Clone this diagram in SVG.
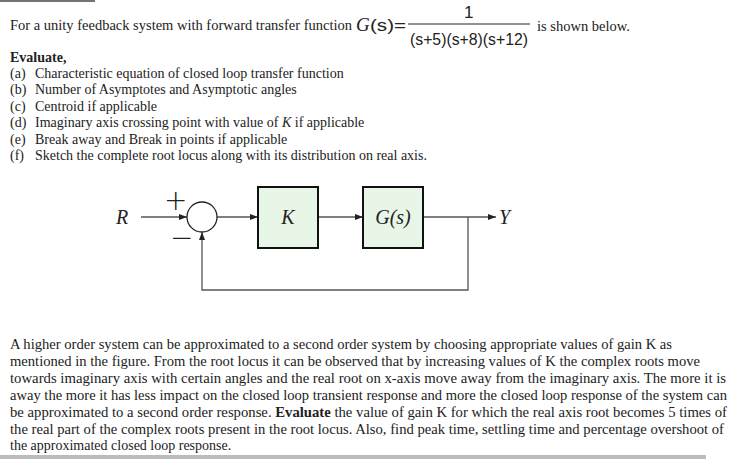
<svg xmlns="http://www.w3.org/2000/svg" width="738" height="459" viewBox="0 0 738 459">
<style>
.t{font-family:"Liberation Serif",serif;font-size:14px;fill:#222}
.m{font-family:"Liberation Serif",serif;font-style:italic;font-size:20px;fill:#222}
.s{font-family:"Liberation Sans",sans-serif;font-size:17px;fill:#222}
.pm{font-family:"DejaVu Sans",sans-serif;font-size:28px;font-weight:200;fill:#222}
.blk{fill:#e8f6e8;stroke:#111;stroke-width:2}
.ln{stroke:#555;stroke-width:1.3;fill:none}
</style>
<defs><marker id="a" markerWidth="8" markerHeight="6" refX="8" refY="3" orient="auto" markerUnits="userSpaceOnUse"><path d="M0,0L8,3L0,6z" fill="#222"/></marker></defs>
<rect width="738" height="459" fill="#fff"/>
<line x1="0" y1="1" x2="95" y2="1" stroke="#444" stroke-width="1.5"/>
<text class="t" x="10" y="30" textLength="342" lengthAdjust="spacingAndGlyphs">For a unity feedback system with forward transfer function</text>
<text x="356" y="31" style="font-family:'Liberation Serif',serif;font-size:19px;font-style:italic;fill:#222">G</text>
<text class="s" x="370" y="31" textLength="36" lengthAdjust="spacingAndGlyphs">(s)=</text>
<text class="s" x="464" y="18">1</text>
<line x1="408" y1="24" x2="530" y2="24" stroke="#222" stroke-width="1"/>
<text class="s" x="410" y="45" textLength="118" lengthAdjust="spacingAndGlyphs">(s+5)(s+8)(s+12)</text>
<text class="t" x="537" y="31" textLength="93" lengthAdjust="spacingAndGlyphs">is shown below.</text>
<text class="t" x="10" y="62" font-weight="bold">Evaluate,</text>
<g class="t">
<text x="10" y="78">(a)</text><text x="35" y="78">Characteristic equation of closed loop transfer function</text>
<text x="10" y="94">(b)</text><text x="35" y="94">Number of Asymptotes and Asymptotic angles</text>
<text x="10" y="111">(c)</text><text x="35" y="111">Centroid if applicable</text>
<text x="10" y="127">(d)</text><text x="35" y="127">Imaginary axis crossing point with value of <tspan font-style="italic">K</tspan> if applicable</text>
<text x="10" y="144">(e)</text><text x="35" y="144">Break away and Break in points if applicable</text>
<text x="10" y="160">(f)</text><text x="35" y="160">Sketch the complete root locus along with its distribution on real axis.</text>
</g>
<g id="connectors">
<line class="ln" x1="141" y1="217" x2="187" y2="217" marker-end="url(#a)"/>
<line class="ln" x1="217" y1="217" x2="258" y2="217" marker-end="url(#a)"/>
<line class="ln" x1="318" y1="217" x2="363" y2="217" marker-end="url(#a)"/>
<line class="ln" x1="423" y1="217" x2="496" y2="217" marker-end="url(#a)"/>
<polyline class="ln" points="468,217 468,290 202,290 202,232" marker-end="url(#a)"/>
</g>
<g id="sum"><circle cx="202" cy="217" r="15" fill="#fff" stroke="#222" stroke-width="1.3"/>
<text class="pm" x="164" y="210">+</text><text class="pm" x="170" y="247">−</text></g>
<g id="R"><text class="m" x="116" y="224">R</text></g>
<g id="K"><rect class="blk" x="258" y="187" width="60" height="61"/><text class="m" x="288" y="224" text-anchor="middle">K</text></g>
<g id="G"><rect class="blk" x="363" y="187" width="60" height="61"/><text class="m" x="393" y="224" text-anchor="middle">G(s)</text></g>
<g id="Y"><text class="m" x="499" y="224">Y</text></g>
<g class="t">
<text x="10" y="349" textLength="662" lengthAdjust="spacingAndGlyphs">A higher order system can be approximated to a second order system by choosing appropriate values of gain K as</text>
<text x="10" y="366" textLength="690" lengthAdjust="spacingAndGlyphs">mentioned in the figure. From the root locus it can be observed that by increasing values of K the complex roots move</text>
<text x="10" y="383" textLength="716" lengthAdjust="spacingAndGlyphs">towards imaginary axis with certain angles and the real root on x-axis move away from the imaginary axis. The more it is</text>
<text x="10" y="400" textLength="717" lengthAdjust="spacingAndGlyphs">away the more it has less impact on the closed loop transient response and more the closed loop response of the system can</text>
<text x="10" y="417" textLength="717" lengthAdjust="spacingAndGlyphs">be approximated to a second order response. <tspan font-weight="bold">Evaluate</tspan> the value of gain K for which the real axis root becomes 5 times of</text>
<text x="10" y="434" textLength="714" lengthAdjust="spacingAndGlyphs">the real part of the complex roots present in the root locus. Also, find peak time, settling time and percentage overshoot of</text>
<text x="10" y="450">the approximated closed loop response.</text>
</g>
<rect x="0" y="455" width="706" height="4" fill="#bbb"/>
</svg>
